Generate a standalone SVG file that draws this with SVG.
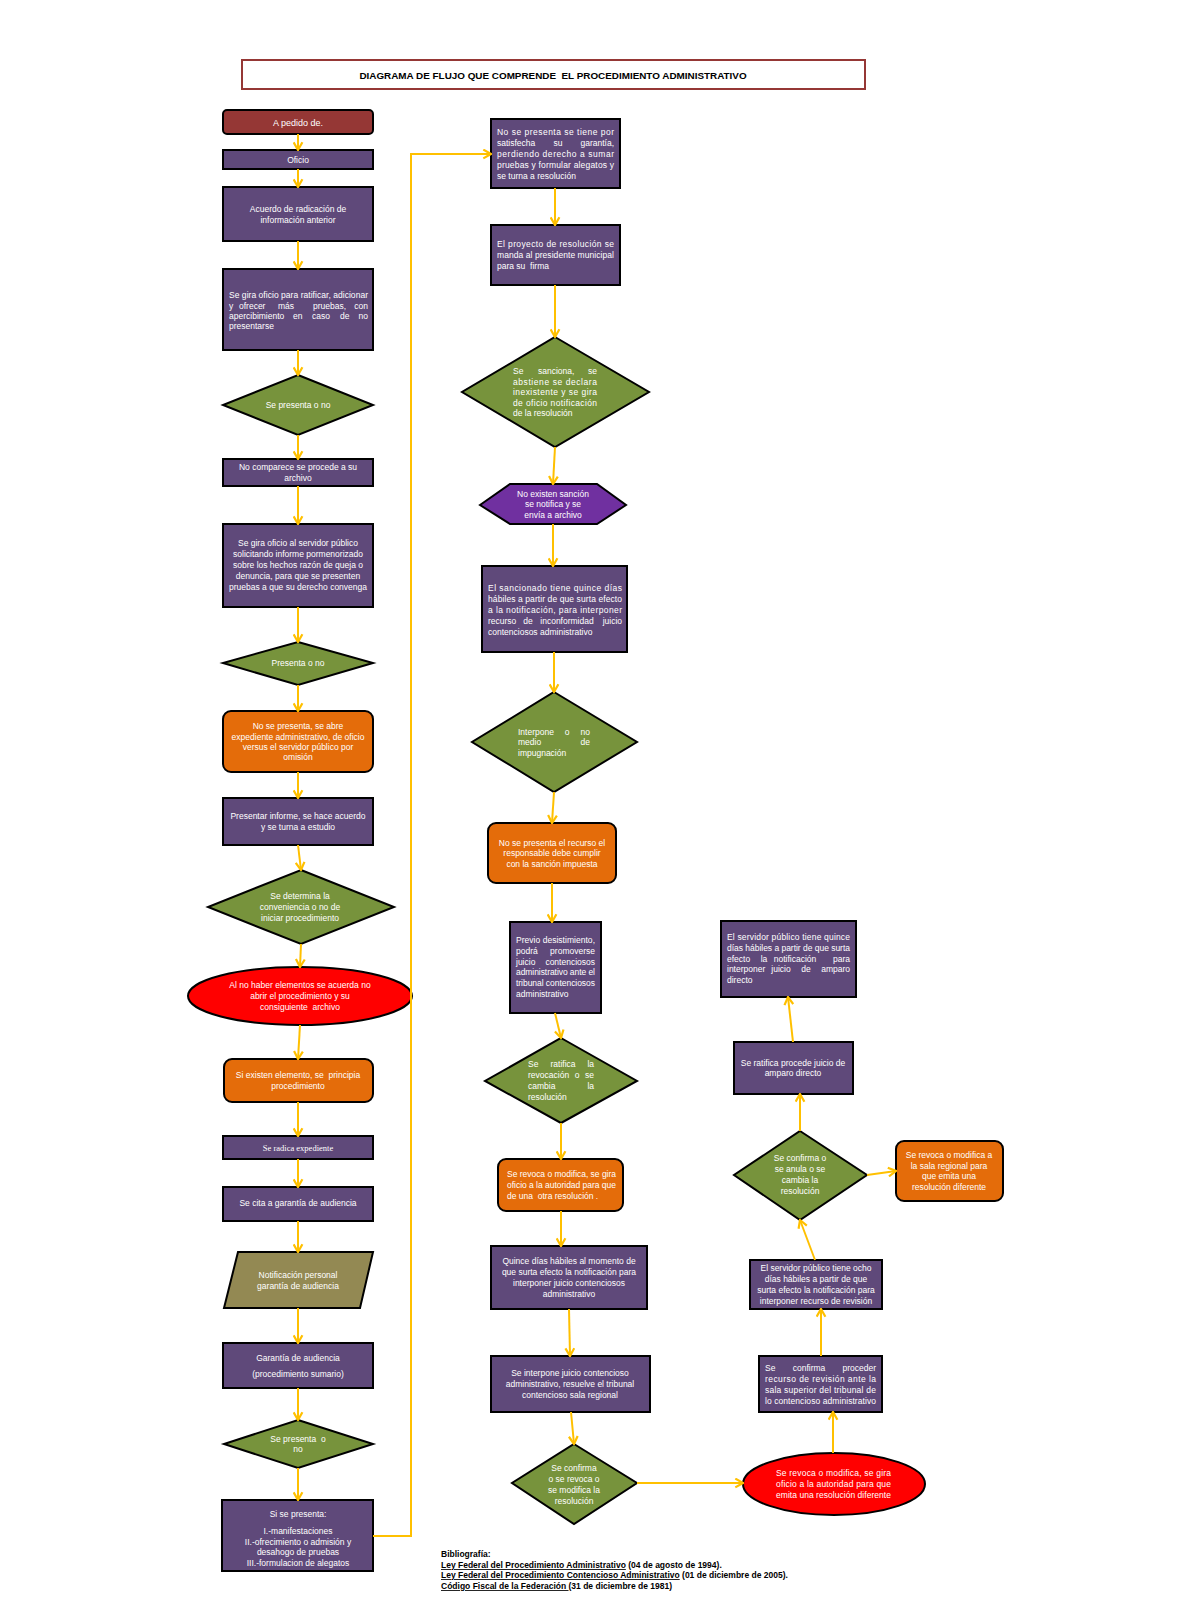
<svg xmlns="http://www.w3.org/2000/svg" width="1200" height="1600" viewBox="0 0 1200 1600">
<defs>
<style>
.b{stroke:#000;stroke-width:2}
.pu{fill:#5F497A}
.gr{fill:#77933C}
.or{fill:#E46C0A}
.rd{fill:#FF0000}
.t{font-family:"Liberation Sans",Arial,sans-serif;font-size:8.5px;fill:#fff}
.c{text-anchor:middle}
.e{text-anchor:end}
.p{white-space:pre}
.cn{fill:none;stroke:#FFC000;stroke-width:2;marker-end:url(#ah)}
.bib{font-family:"Liberation Sans",Arial,sans-serif;font-size:8.5px;font-weight:bold;fill:#000}
</style>
<marker id="ah" viewBox="0 0 10 10" refX="9" refY="5" markerWidth="11" markerHeight="11" markerUnits="userSpaceOnUse" orient="auto">
<path d="M2,1 L9,5 L2,9" fill="none" stroke="#FFC000" stroke-width="2"/>
</marker>
</defs>
<rect width="1200" height="1600" fill="#fff"/>

<g id="title">
<rect x="242" y="60" width="623" height="29" fill="#fff" stroke="#953735" stroke-width="2"/>
<text x="553" y="78.5" class="c p" font-family="Liberation Sans, Arial, sans-serif" font-size="9.9" font-weight="bold" fill="#000">DIAGRAMA DE FLUJO QUE COMPRENDE  EL PROCEDIMIENTO ADMINISTRATIVO</text>
</g>

<!-- Left column -->
<g id="n1"><rect x="223" y="110" width="150" height="24" rx="4" fill="#953735" class="b"/><text x="298" y="126" class="t c" style="font-size:9px">A pedido de.</text></g>
<g id="n2"><rect x="223" y="150" width="150" height="19" class="pu b"/><text x="298" y="163" class="t c">Oficio</text></g>
<g id="n3"><rect x="223" y="187" width="150" height="54" class="pu b"/><text x="298" y="212" class="t c">Acuerdo de radicación de</text><text x="298" y="222.5" class="t c">información anterior</text></g>
<g id="n4"><rect x="223" y="269" width="150" height="81" class="pu b"/>
<text x="229" y="298" class="t" textLength="139" lengthAdjust="spacing">Se gira oficio para ratificar, adicionar</text>
<text x="229" y="309" class="t">y</text><text x="239" y="309" class="t">ofrecer</text><text x="278" y="309" class="t">más</text><text x="313" y="309" class="t">pruebas,</text><text x="368" y="309" class="t e">con</text>
<text x="229" y="319" class="t">apercibimiento</text><text x="293" y="319" class="t">en</text><text x="312" y="319" class="t">caso</text><text x="340" y="319" class="t">de</text><text x="368" y="319" class="t e">no</text>
<text x="229" y="329" class="t">presentarse</text></g>
<g id="d1"><polygon points="298,375 373,405 298,435 223,405" class="gr b"/><text x="298" y="408" class="t c">Se presenta o no</text></g>
<g id="n5"><rect x="223" y="459" width="150" height="27" class="pu b"/><text x="298" y="470" class="t c">No comparece se procede a su</text><text x="298" y="481" class="t c">archivo</text></g>
<g id="n6"><rect x="223" y="524" width="150" height="83" class="pu b"/>
<text x="298" y="546" class="t c">Se gira oficio al servidor público</text>
<text x="298" y="557" class="t c">solicitando informe pormenorizado</text>
<text x="298" y="568" class="t c">sobre los hechos razón de queja o</text>
<text x="298" y="579" class="t c">denuncia, para que se presenten</text>
<text x="298" y="590" class="t c">pruebas a que su derecho convenga</text></g>
<g id="d2"><polygon points="298,642 373,663 298,685 223,663" class="gr b"/><text x="298" y="666" class="t c">Presenta o no</text></g>
<g id="n7"><rect x="223" y="711" width="150" height="61" rx="8" class="or b"/>
<text x="298" y="729" class="t c">No se presenta, se abre</text>
<text x="298" y="740" class="t c">expediente administrativo, de oficio</text>
<text x="298" y="750" class="t c">versus el servidor público por</text>
<text x="298" y="760" class="t c">omisión</text></g>
<g id="n8"><rect x="223" y="798" width="150" height="47" class="pu b"/><text x="298" y="819" class="t c">Presentar informe, se hace acuerdo</text><text x="298" y="830" class="t c">y se turna a estudio</text></g>
<g id="d3"><polygon points="301,870 394,907 301,944 208,907" class="gr b"/>
<text x="300" y="899" class="t c">Se determina la</text><text x="300" y="910" class="t c">conveniencia o no de</text><text x="300" y="921" class="t c">iniciar procedimiento</text></g>
<g id="e1"><ellipse cx="300" cy="996" rx="112" ry="29" class="rd b"/>
<text x="300" y="988" class="t c">Al no haber elementos se acuerda no</text><text x="300" y="999" class="t c">abrir el procedimiento y su</text><text x="300" y="1010" class="t c p">consiguiente  archivo</text></g>
<g id="n9"><rect x="224" y="1059" width="149" height="43" rx="8" class="or b"/><text x="298" y="1078" class="t c p">Si existen elemento, se  principia</text><text x="298" y="1089" class="t c">procedimiento</text></g>
<g id="n10"><rect x="223" y="1136" width="150" height="23" class="pu b"/><text x="298" y="1151" class="t c" style="font-family:'Liberation Serif','Times New Roman',serif;font-size:8.5px">Se radica expediente</text></g>
<g id="n11"><rect x="223" y="1187" width="150" height="34" class="pu b"/><text x="298" y="1206" class="t c">Se cita a garantía de audiencia</text></g>
<g id="p1"><polygon points="238,1252 373,1252 360,1308 224,1308" fill="#938953" class="b"/><text x="298" y="1278" class="t c">Notificación personal</text><text x="298" y="1289" class="t c">garantía de audiencia</text></g>
<g id="n12"><rect x="223" y="1343" width="150" height="45" class="pu b"/><text x="298" y="1361" class="t c">Garantía de audiencia</text><text x="298" y="1377" class="t c">(procedimiento sumario)</text></g>
<g id="d4"><polygon points="298,1420 373,1444 298,1468 224,1444" class="gr b"/><text x="298" y="1442" class="t c p">Se presenta  o</text><text x="298" y="1452" class="t c">no</text></g>
<g id="n13"><rect x="222" y="1500" width="151" height="71" class="pu b"/>
<text x="298" y="1517" class="t c">Si se presenta:</text>
<text x="298" y="1534" class="t c">I.-manifestaciones</text>
<text x="298" y="1545" class="t c">II.-ofrecimiento o admisión y</text>
<text x="298" y="1555" class="t c">desahogo de pruebas</text>
<text x="298" y="1566" class="t c">III.-formulacion de alegatos</text></g>

<!-- Middle column -->
<g id="m1"><rect x="491" y="119" width="129" height="69" class="pu b"/>
<text x="497" y="135" class="t" textLength="117" lengthAdjust="spacing">No se presenta se tiene por</text>
<text x="497" y="146" class="t">satisfecha</text><text x="558" y="146" class="t c">su</text><text x="614" y="146" class="t e">garantía,</text>
<text x="497" y="157" class="t" textLength="117" lengthAdjust="spacing">perdiendo derecho a sumar</text>
<text x="497" y="168" class="t" textLength="117" lengthAdjust="spacing">pruebas y formular alegatos y</text>
<text x="497" y="179" class="t">se turna a resolución</text></g>
<g id="m2"><rect x="491" y="225" width="129" height="60" class="pu b"/>
<text x="497" y="247" class="t" textLength="117" lengthAdjust="spacing">El proyecto de resolución se</text>
<text x="497" y="258" class="t" textLength="117" lengthAdjust="spacing">manda al presidente municipal</text>
<text x="497" y="269" class="t p">para su  firma</text></g>
<g id="m3"><polygon points="555,337 649,392 555,447 462,392" class="gr b"/>
<text x="513" y="374" class="t">Se</text><text x="538" y="374" class="t">sanciona,</text><text x="597" y="374" class="t e">se</text>
<text x="513" y="385" class="t" textLength="84" lengthAdjust="spacing">abstiene se declara</text>
<text x="513" y="395" class="t" textLength="84" lengthAdjust="spacing">inexistente y se gira</text>
<text x="513" y="406" class="t" textLength="84" lengthAdjust="spacing">de oficio notificación</text>
<text x="513" y="416" class="t">de la resolución</text></g>
<g id="m4"><polygon points="480,505 510,484 597,484 626,505 597,524 510,524" fill="#7030A0" class="b"/>
<text x="553" y="497" class="t c">No existen sanción</text><text x="553" y="507" class="t c">se notifica y se</text><text x="553" y="518" class="t c">envía a archivo</text></g>
<g id="m5"><rect x="482" y="566" width="145" height="86" class="pu b"/>
<text x="488" y="591" class="t" textLength="134" lengthAdjust="spacing">El sancionado tiene quince días</text>
<text x="488" y="602" class="t" textLength="134" lengthAdjust="spacing">hábiles a partir de que surta efecto</text>
<text x="488" y="613" class="t" textLength="134" lengthAdjust="spacing">a la notificación, para interponer</text>
<text x="488" y="624" class="t">recurso</text><text x="528" y="624" class="t c">de</text><text x="567" y="624" class="t c">inconformidad</text><text x="622" y="624" class="t e">juicio</text>
<text x="488" y="635" class="t">contenciosos administrativo</text></g>
<g id="m6"><polygon points="554,692 637,742 554,792 472,742" class="gr b"/>
<text x="518" y="735" class="t">Interpone</text><text x="567" y="735" class="t c">o</text><text x="590" y="735" class="t e">no</text>
<text x="518" y="745" class="t">medio</text><text x="590" y="745" class="t e">de</text>
<text x="518" y="756" class="t">impugnación</text></g>
<g id="m7"><rect x="488" y="823" width="128" height="60" rx="8" class="or b"/>
<text x="552" y="846" class="t c">No se presenta el recurso el</text><text x="552" y="856" class="t c">responsable debe cumplir</text><text x="552" y="867" class="t c">con la sanción impuesta</text></g>
<g id="m8"><rect x="510" y="922" width="91" height="91" class="pu b"/>
<text x="516" y="943" class="t" textLength="79" lengthAdjust="spacing">Previo desistimiento,</text>
<text x="516" y="954" class="t">podrá</text><text x="595" y="954" class="t e">promoverse</text>
<text x="516" y="965" class="t">juicio</text><text x="595" y="965" class="t e">contenciosos</text>
<text x="516" y="975" class="t" textLength="79" lengthAdjust="spacing">administrativo ante el</text>
<text x="516" y="986" class="t" textLength="79" lengthAdjust="spacing">tribunal contenciosos</text>
<text x="516" y="997" class="t">administrativo</text></g>
<g id="m9"><polygon points="561,1038 637,1081 561,1123 485,1081" class="gr b"/>
<text x="528" y="1067" class="t">Se</text><text x="563" y="1067" class="t c">ratifica</text><text x="594" y="1067" class="t e">la</text>
<text x="528" y="1078" class="t">revocación</text><text x="577" y="1078" class="t c">o</text><text x="594" y="1078" class="t e">se</text>
<text x="528" y="1089" class="t">cambia</text><text x="594" y="1089" class="t e">la</text>
<text x="528" y="1100" class="t">resolución</text></g>
<g id="m10"><rect x="498" y="1159" width="125" height="52" rx="8" class="or b"/>
<text x="507" y="1177" class="t" textLength="109" lengthAdjust="spacing">Se revoca o modifica, se gira</text>
<text x="507" y="1188" class="t" textLength="109" lengthAdjust="spacing">oficio a la autoridad para que</text>
<text x="507" y="1199" class="t p">de una  otra resolución .</text></g>
<g id="m11"><rect x="491" y="1246" width="156" height="63" class="pu b"/>
<text x="569" y="1264" class="t c">Quince días hábiles al momento de</text>
<text x="569" y="1275" class="t c">que surta efecto la notificación para</text>
<text x="569" y="1286" class="t c">interponer juicio contenciosos</text>
<text x="569" y="1297" class="t c">administrativo</text></g>
<g id="m12"><rect x="491" y="1356" width="159" height="56" class="pu b"/>
<text x="570" y="1376" class="t c">Se interpone juicio contencioso</text>
<text x="570" y="1387" class="t c">administrativo, resuelve el tribunal</text>
<text x="570" y="1398" class="t c">contencioso sala regional</text></g>
<g id="m13"><polygon points="574,1444 637,1483 574,1524 512,1483" class="gr b"/>
<text x="574" y="1471" class="t c">Se confirma</text><text x="574" y="1482" class="t c">o se revoca o</text><text x="574" y="1493" class="t c">se modifica la</text><text x="574" y="1504" class="t c">resolución</text></g>

<!-- Right column -->
<g id="r1"><ellipse cx="834" cy="1484" rx="91" ry="31" class="rd b"/>
<text x="776" y="1476" class="t" textLength="115" lengthAdjust="spacing">Se revoca o modifica, se gira</text>
<text x="776" y="1487" class="t" textLength="115" lengthAdjust="spacing">oficio a la autoridad para que</text>
<text x="776" y="1498" class="t" textLength="115" lengthAdjust="spacing">emita una resolución diferente</text></g>
<g id="r2"><rect x="759" y="1356" width="123" height="56" class="pu b"/>
<text x="765" y="1371" class="t">Se</text><text x="809" y="1371" class="t c">confirma</text><text x="876" y="1371" class="t e">proceder</text>
<text x="765" y="1382" class="t" textLength="111" lengthAdjust="spacing">recurso de revisión ante la</text>
<text x="765" y="1393" class="t" textLength="111" lengthAdjust="spacing">sala superior del tribunal de</text>
<text x="765" y="1404" class="t" textLength="111" lengthAdjust="spacing">lo contencioso administrativo</text></g>
<g id="r3"><rect x="750" y="1260" width="132" height="49" class="pu b"/>
<text x="816" y="1271" class="t c">El servidor público tiene ocho</text>
<text x="816" y="1282" class="t c">días hábiles a partir de que</text>
<text x="816" y="1293" class="t c">surta efecto la notificación para</text>
<text x="816" y="1304" class="t c">interponer recurso de revisión</text></g>
<g id="r4"><polygon points="800,1131 867,1175 800,1220 734,1175" class="gr b"/>
<text x="800" y="1161" class="t c">Se confirma o</text><text x="800" y="1172" class="t c">se anula o se</text><text x="800" y="1183" class="t c">cambia la</text><text x="800" y="1194" class="t c">resolución</text></g>
<g id="r5"><rect x="896" y="1141" width="107" height="60" rx="8" class="or b"/>
<text x="949" y="1158" class="t c">Se revoca o modifica a</text><text x="949" y="1169" class="t c">la sala regional para</text><text x="949" y="1179" class="t c">que emita una</text><text x="949" y="1190" class="t c">resolución diferente</text></g>
<g id="r6"><rect x="734" y="1042" width="119" height="52" class="pu b"/>
<text x="793" y="1066" class="t c">Se ratifica procede juicio de</text><text x="793" y="1076" class="t c">amparo directo</text></g>
<g id="r7"><rect x="721" y="921" width="135" height="76" class="pu b"/>
<text x="727" y="940" class="t" textLength="123" lengthAdjust="spacing">El servidor público tiene quince</text>
<text x="727" y="951" class="t" textLength="123" lengthAdjust="spacing">días hábiles a partir de que surta</text>
<text x="727" y="962" class="t">efecto</text><text x="764" y="962" class="t c">la</text><text x="795" y="962" class="t c">notificación</text><text x="850" y="962" class="t e">para</text>
<text x="727" y="972" class="t">interponer</text><text x="781" y="972" class="t c">juicio</text><text x="806" y="972" class="t c">de</text><text x="850" y="972" class="t e">amparo</text>
<text x="727" y="983" class="t">directo</text></g>

<g id="connectors">
<path class="cn" d="M298,134 V150"/>
<path class="cn" d="M298,169 V187"/>
<path class="cn" d="M298,241 V269"/>
<path class="cn" d="M298,350 V375"/>
<path class="cn" d="M298,435 V459"/>
<path class="cn" d="M298,486 V524"/>
<path class="cn" d="M298,607 V642"/>
<path class="cn" d="M298,685 V711"/>
<path class="cn" d="M298,772 V798"/>
<path class="cn" d="M298,845 L301,870"/>
<path class="cn" d="M301,944 L300,967"/>
<path class="cn" d="M300,1025 L298,1059"/>
<path class="cn" d="M298,1102 V1136"/>
<path class="cn" d="M298,1159 V1187"/>
<path class="cn" d="M298,1221 V1252"/>
<path class="cn" d="M298,1308 V1343"/>
<path class="cn" d="M298,1388 V1420"/>
<path class="cn" d="M298,1468 V1500"/>
<path class="cn" d="M373,1536 H411 V154 H491"/>
<path class="cn" d="M555,188 V225"/>
<path class="cn" d="M555,285 V337"/>
<path class="cn" d="M555,447 L553,484"/>
<path class="cn" d="M553,524 V566"/>
<path class="cn" d="M554,652 V692"/>
<path class="cn" d="M554,792 L552,823"/>
<path class="cn" d="M552,883 V922"/>
<path class="cn" d="M555,1013 L561,1038"/>
<path class="cn" d="M561,1123 V1159"/>
<path class="cn" d="M561,1211 V1246"/>
<path class="cn" d="M569,1309 L570,1356"/>
<path class="cn" d="M571,1412 L574,1444"/>
<path class="cn" d="M637,1483 H743"/>
<path class="cn" d="M833,1453 V1412"/>
<path class="cn" d="M821,1356 V1309"/>
<path class="cn" d="M815,1260 L800,1220"/>
<path class="cn" d="M867,1175 L896,1171"/>
<path class="cn" d="M800,1131 V1094"/>
<path class="cn" d="M793,1042 L788,997"/>
</g>

<g id="bibliografia">
<text x="441" y="1557" class="bib">Bibliografía:</text>
<text x="441" y="1568" class="bib"><tspan text-decoration="underline">Ley Federal del Procedimiento Administrativo</tspan> (04 de agosto de 1994).</text>
<text x="441" y="1578" class="bib"><tspan text-decoration="underline">Ley Federal del Procedimiento Contencioso Administrativo</tspan> (01 de diciembre de 2005).</text>
<text x="441" y="1589" class="bib"><tspan text-decoration="underline">Código Fiscal de la Federación </tspan>(31 de diciembre de 1981)</text>
</g>
</svg>
